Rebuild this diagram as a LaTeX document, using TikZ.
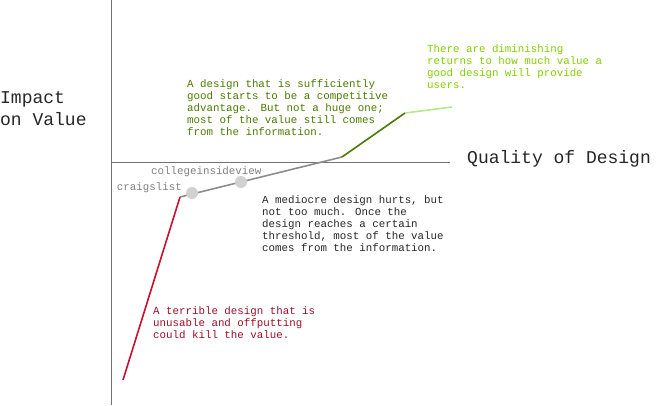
\documentclass[tikz,border=0pt]{standalone}
\usepackage{fontspec}
\setmainfont{Liberation Mono}
\begin{document}
\begin{tikzpicture}[x=1pt,y=-1pt,
  txt/.style={anchor=north west,align=left,inner sep=0pt,font=\fontsize{10.8}{12}\selectfont},
  big/.style={anchor=north west,align=left,inner sep=0pt,font=\fontsize{18}{22}\selectfont,text=black!85},
  dot/.style={circle,fill=black!18,minimum size=12pt,inner sep=0pt}]
\useasboundingbox (0,0) rectangle (662,405);
\definecolor{lg}{HTML}{7FD000}\definecolor{dg}{HTML}{4A7A00}\definecolor{rd}{HTML}{C8102E}
\definecolor{llg}{HTML}{B5E88A}
\coordinate (vt) at (111,0); \coordinate (vb) at (111,405);
\coordinate (hl) at (111,162); \coordinate (hr) at (450,162);
\draw[black!55] (vt)--(vb); \draw[black!55] (hl)--(hr);
\coordinate (p0) at (123,380); \coordinate (p1) at (180,197);
\coordinate (p2) at (342,157); \coordinate (p3) at (405,113); \coordinate (p4) at (452,107);
\draw[rd,line width=1.6pt] (p0)--(p1);
\draw[black!45,line width=1.6pt] (p1)--(p2);
\draw[dg,line width=1.6pt] (p2)--(p3);
\draw[llg,line width=1.6pt] (p3)--(p4);
\node[dot] (c1) at (192,193) {};
\node[dot] (c2) at (241,182) {};
\node[txt,text=black!50,anchor=south east] (l1) at (182,193) {craigslist};
\node[txt,text=black!50,anchor=south west] (l2) at (151,177) {collegeinsideview};
\node[big] (iv) at (0,91) {Impact\\on Value};
\node[big] (qd) at (467,150) {Quality of Design};
\node[txt,text=lg] (t1) at (427,44) {There are diminishing\\returns to how much value a\\good design will provide\\users.};
\node[txt,text=dg] (t2) at (187,79) {A design that is sufficiently\\good starts to be a competitive\\advantage. But not a huge one;\\most of the value still comes\\from the information.};
\node[txt,text=black!85] (t3) at (262,195) {A mediocre design hurts, but\\not too much. Once the\\design reaches a certain\\threshold, most of the value\\comes from the information.};
\node[txt,text=rd!80!black] (t4) at (153,306) {A terrible design that is\\unusable and offputting\\could kill the value.};
\end{tikzpicture}
\end{document}
